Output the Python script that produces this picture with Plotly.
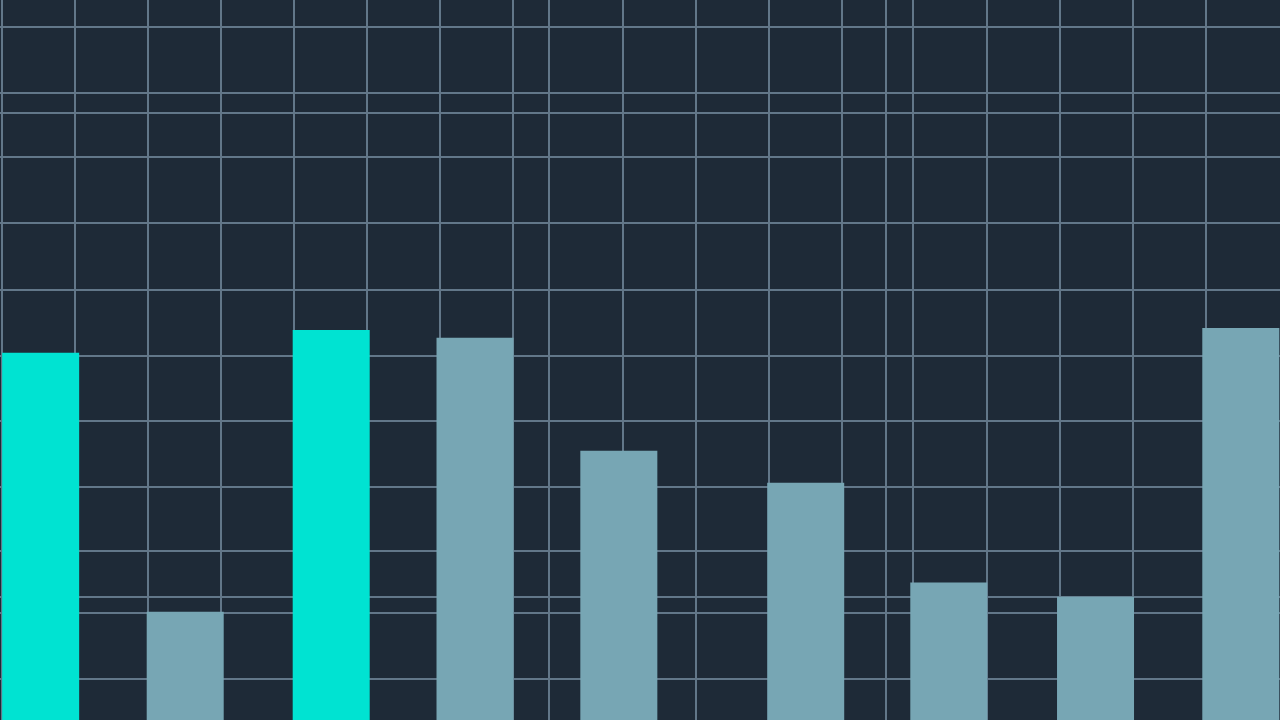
import plotly.graph_objects as go

bar_x = [0.53, 2.51, 4.51, 6.48, 8.45, 11.01, 12.97, 14.98, 16.97]
bar_y = [60.0, 20.3, 63.5, 62.3, 45.0, 40.1, 24.8, 22.6, 63.8]
highlight = [True, False, True, False, False, False, False, False, False]

# Grid line positions (the grid is uneven in the source)
x_grid = [0, 1, 2, 3, 4, 5, 6, 7, 7.49, 8.51, 9.51, 10.51, 11.51,
          12.11, 12.48, 13.49, 14.49, 15.49, 16.49]
y_grid = [10, 20.1, 22.6, 29.6, 39.4, 49.6, 59.5, 69.7, 79.9, 90.1,
          96.8, 99.9, 110]

BG = "#1e2a37"
GRID = "#627789"
CYAN = "#00e3d2"
STEEL = "#77a6b4"

fig = go.Figure()
fig.add_bar(
    x=bar_x, y=bar_y, width=1.055,
    marker=dict(color=[CYAN if h else STEEL for h in highlight], line=dict(width=0)),
    hoverinfo="skip",
)

fig.update_layout(
    width=1280, height=720,
    margin=dict(l=0, r=0, t=0, b=0),
    paper_bgcolor=BG, plot_bgcolor=BG,
    showlegend=False,
    xaxis=dict(range=[-0.027, 17.507], tickvals=x_grid, showticklabels=False,
               showgrid=True, gridcolor=GRID, gridwidth=2, zeroline=False,
               showline=False, ticks=""),
    yaxis=dict(range=[3.71, 114.1], tickvals=y_grid, showticklabels=False,
               showgrid=True, gridcolor=GRID, gridwidth=2, zeroline=False,
               showline=False, ticks=""),
)

fig.write_html("out.html", config={"displayModeBar": False},
               post_script="document.body.style.margin='0';document.body.style.background='%s';" % BG)
